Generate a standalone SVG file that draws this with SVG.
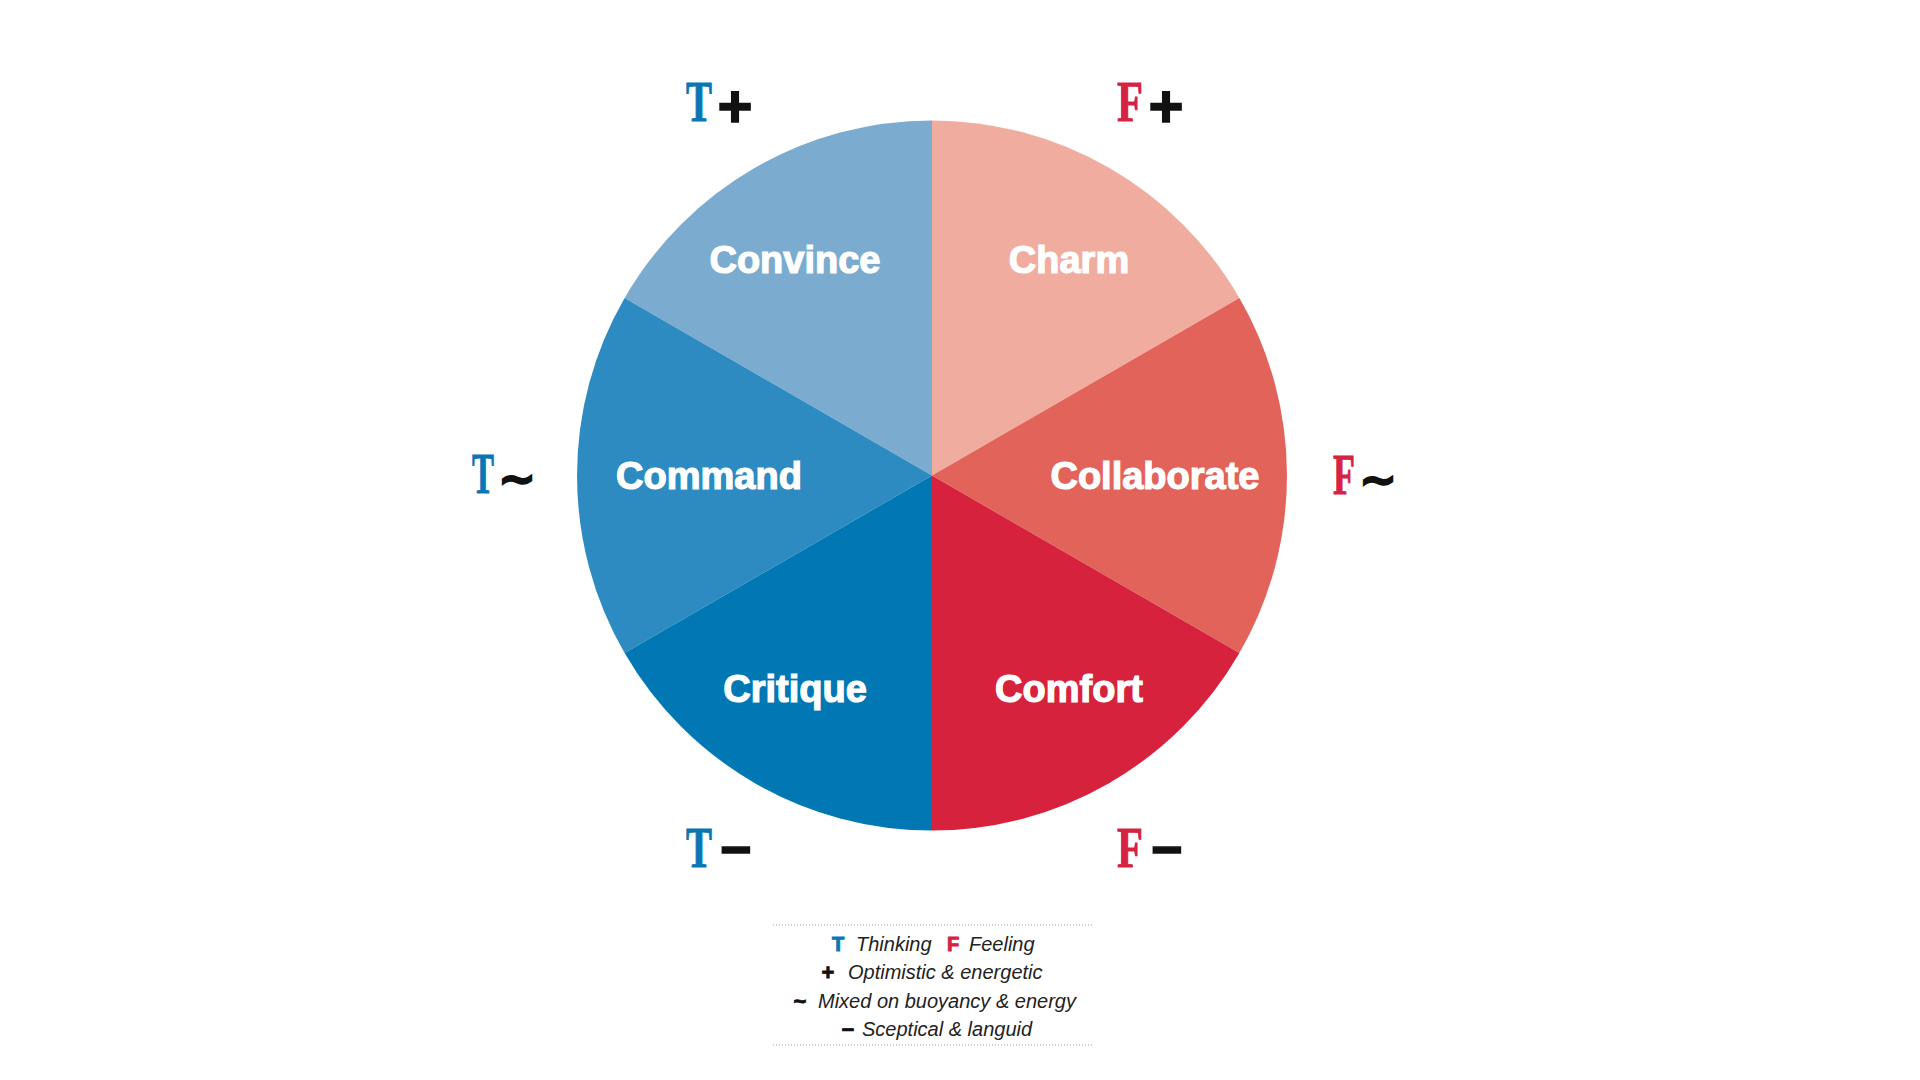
<svg xmlns="http://www.w3.org/2000/svg" width="1920" height="1080" viewBox="0 0 1920 1080">
<style>
.seg-label{font-family:"Liberation Sans",Arial,sans-serif;font-weight:bold;font-size:38px;fill:#ffffff;stroke:#ffffff;stroke-width:1.2;text-anchor:middle}
.letter{font-family:"Liberation Serif","Times New Roman",serif;font-weight:bold;font-size:58px;stroke-width:1}
.t{fill:#0a77b4;stroke:#0a77b4}
.f{fill:#d42441;stroke:#d42441}
.sym{font-family:"Liberation Sans",Arial,sans-serif;font-weight:bold;fill:#111;stroke:#111;stroke-width:1.5;text-anchor:middle}
.tilde{font-family:"DejaVu Sans",sans-serif;font-weight:bold;fill:#111;stroke:#111;stroke-width:1.5;text-anchor:middle}
.leg{font-family:"Liberation Sans",Arial,sans-serif;font-style:italic;font-size:20px;fill:#222}
.legb{font-family:"Liberation Sans",Arial,sans-serif;font-weight:bold;font-size:20px}
.legs{font-family:"Liberation Sans",Arial,sans-serif;font-weight:bold;font-size:22px;fill:#111;stroke:#111;stroke-width:0.8;text-anchor:middle}
.dot{stroke:#9a9a9a;stroke-width:1;stroke-dasharray:1 2;fill:none}
</style>
<rect width="1920" height="1080" fill="#ffffff"/>
<g id="wheel">
<g id="convince">
<path d="M932 475.5 L932 120.5 A355 355 0 0 0 624.6 298 Z" fill="#7bacd0"/>
<text class="seg-label" x="795" y="273">Convince</text>
</g>
<g id="command">
<path d="M932 475.5 L624.6 298 A355 355 0 0 0 624.6 653 Z" fill="#2d8bc1"/>
<text class="seg-label" x="709" y="489">Command</text>
</g>
<g id="critique">
<path d="M932 475.5 L624.6 653 A355 355 0 0 0 932 830.5 Z" fill="#0178b4"/>
<text class="seg-label" x="795" y="702">Critique</text>
</g>
<g id="charm">
<path d="M932 475.5 L932 120.5 A355 355 0 0 1 1239.4 298 Z" fill="#f0ad9f"/>
<text class="seg-label" x="1069" y="273">Charm</text>
</g>
<g id="collaborate">
<path d="M932 475.5 L1239.4 298 A355 355 0 0 1 1239.4 653 Z" fill="#e2635a"/>
<text class="seg-label" x="1155" y="489">Collaborate</text>
</g>
<g id="comfort">
<path d="M932 475.5 L1239.4 653 A355 355 0 0 1 932 830.5 Z" fill="#d7223d"/>
<text class="seg-label" x="1069" y="702">Comfort</text>
</g>
</g>
<g id="connectors"></g>
<g id="label-t-plus">
<text class="letter t" x="686" y="121" textLength="26" lengthAdjust="spacingAndGlyphs">T</text>
<text class="sym" x="735" y="127" font-size="60">+</text>
</g>
<g id="label-f-plus">
<text class="letter f" x="1117" y="121" textLength="26" lengthAdjust="spacingAndGlyphs">F</text>
<text class="sym" x="1166" y="127" font-size="60">+</text>
</g>
<g id="label-t-tilde">
<text class="letter t" x="472" y="493" textLength="22" lengthAdjust="spacingAndGlyphs">T</text>
<text class="tilde" x="517" y="494" font-size="46">~</text>
</g>
<g id="label-f-tilde">
<text class="letter f" x="1333" y="494" textLength="22" lengthAdjust="spacingAndGlyphs">F</text>
<text class="tilde" x="1378" y="495" font-size="46">~</text>
</g>
<g id="label-t-minus">
<text class="letter t" x="686" y="867" textLength="26" lengthAdjust="spacingAndGlyphs">T</text>
<text class="sym" x="736" y="868" font-size="54">−</text>
</g>
<g id="label-f-minus">
<text class="letter f" x="1117" y="867" textLength="26" lengthAdjust="spacingAndGlyphs">F</text>
<text class="sym" x="1167" y="868" font-size="54">−</text>
</g>
<g id="legend">
<line class="dot" x1="773" y1="925" x2="1093" y2="925"/>
<line class="dot" x1="773" y1="1045" x2="1093" y2="1045"/>
<text class="legb t" x="832" y="951">T</text>
<text class="leg" x="856" y="951">Thinking</text>
<text class="legb f" x="947" y="951">F</text>
<text class="leg" x="969" y="951">Feeling</text>
<text class="legs" x="828" y="980">+</text>
<text class="leg" x="848" y="979">Optimistic &amp; energetic</text>
<text class="legs" x="800" y="1009">~</text>
<text class="leg" x="818" y="1008">Mixed on buoyancy &amp; energy</text>
<text class="legs" x="848" y="1037">−</text>
<text class="leg" x="862" y="1036">Sceptical &amp; languid</text>
</g>
</svg>
